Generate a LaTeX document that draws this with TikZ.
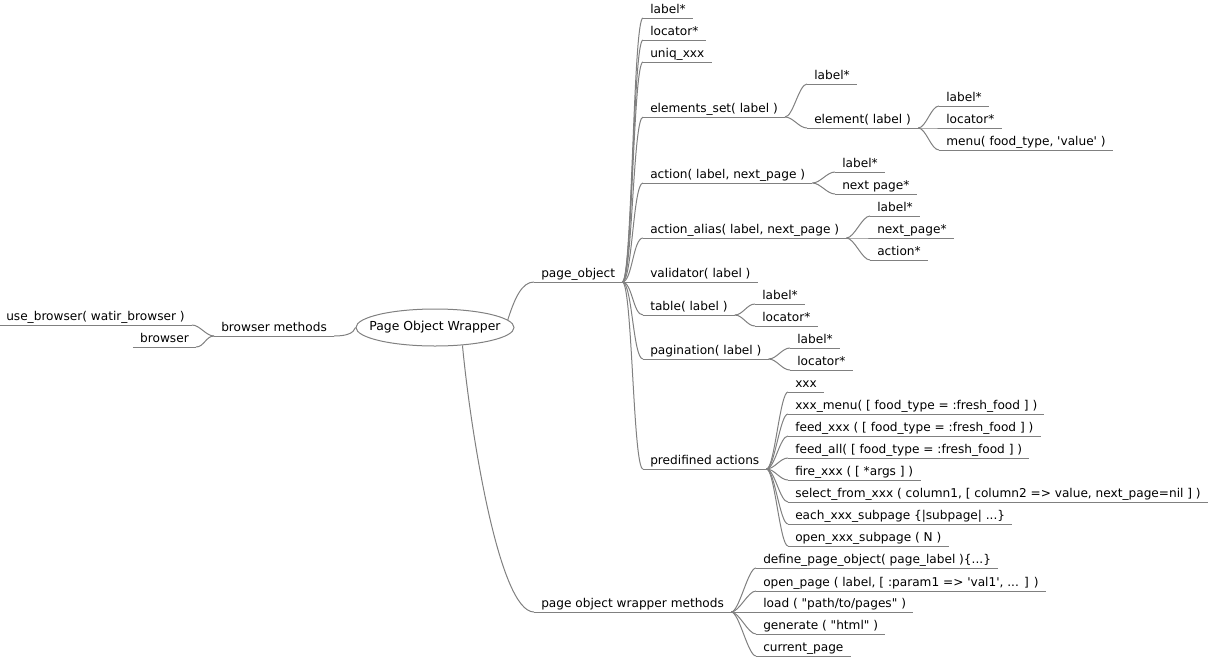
\documentclass[tikz,border=0pt]{standalone}
\usepackage{fontspec}
\setmainfont{DejaVu Sans}[Ligatures=TeXOff]
\usetikzlibrary{shapes.geometric}
\definecolor{edgegray}{HTML}{808080}
\tikzset{
  branch/.style={draw=edgegray, line width=0.75pt},
  topic/.style={anchor=south west, font=\fontsize{9.1}{11}\selectfont, inner xsep=5.25pt, inner ysep=0.8pt,
    text height=7pt, text depth=2.3pt,
    append after command={(\tikzlastnode.south west) edge[branch] (\tikzlastnode.south east)}},
  ltopic/.style={topic, anchor=south east},
  root/.style={ellipse, draw=edgegray, line width=0.75pt, minimum width=118.5pt, minimum height=27.75pt,
    inner xsep=-8pt, inner ysep=0pt, font=\fontsize{9.3}{11}\selectfont}
}

\begin{document}
\begin{tikzpicture}[x=0.75pt, y=-0.75pt]
\useasboundingbox (0,0) rectangle (1209,657);

% Root
\node[root] (root) at (435,327.5) {Page Object Wrapper};

% Left branch
\node[topic] (bm) at (214,336) {browser methods};
\node[topic] (ub) at (-1,325) {use\_browser( watir\_browser )};
\node[ltopic] (br) at (196,347) {browser};
\draw[branch] (bm.south east) .. controls +(12,0) and +(-2,6) .. (root.west);
\foreach \n in {ub,br} \draw[branch] (bm.south west) .. controls +(-8,0) and +(8,0) .. (\n.south east);

% Right branch
\node[topic] (po) at (534,282) {page\_object};
\node[topic] (wr) at (534,612) {page object wrapper methods};
\draw[branch] (root.6) .. controls +(7,-22) and +(-12,0) .. (po.south west);
\draw[branch] (root.-33) .. controls +(8,85) and +(-35,0) .. (wr.south west);

% page_object
\node[topic] (plabel) at (643,18) {label*};
\node[topic] (plocator) at (643,40) {locator*};
\node[topic] (puniq) at (643,62) {uniq\_xxx};
\node[topic] (elset) at (643,117) {elements\_set( label )};
\node[topic] (action) at (643,183) {action( label, next\_page )};
\node[topic] (alias) at (643,238) {action\_alias( label, next\_page )};
\node[topic] (validator) at (643,282) {validator( label )};
\node[topic] (table) at (643,315) {table( label )};
\node[topic] (pagin) at (643,359) {pagination( label )};
\node[topic] (predef) at (643,469) {predifined actions};
\foreach \n in {plabel,plocator,puniq,elset,action,alias,validator,table,pagin,predef}
  \draw[branch] (po.south east) .. controls +(10,0) and +(-10,0) .. (\n.south west);

% elements_set
\node[topic] (eslabel) at (807,84) {label*};
\node[topic] (element) at (807,128) {element( label )};
\foreach \n in {eslabel,element}
  \draw[branch] (elset.south east) .. controls +(8,0) and +(-8,0) .. (\n.south west);

\node[topic] (ellabel) at (939,106) {label*};
\node[topic] (ellocator) at (939,128) {locator*};
\node[topic] (elmenu) at (939,150) {menu( food\_type, 'value' )};
\foreach \n in {ellabel,ellocator,elmenu}
  \draw[branch] (element.south east) .. controls +(8,0) and +(-8,0) .. (\n.south west);

% action / action_alias
\node[topic] (aclabel) at (835,172) {label*};
\node[topic] (acnext) at (835,194) {next page*};
\foreach \n in {aclabel,acnext}
  \draw[branch] (action.south east) .. controls +(8,0) and +(-8,0) .. (\n.south west);

\node[topic] (allabel) at (870,216) {label*};
\node[topic] (alnext) at (870,238) {next\_page*};
\node[topic] (alaction) at (870,260) {action*};
\foreach \n in {allabel,alnext,alaction}
  \draw[branch] (alias.south east) .. controls +(8,0) and +(-8,0) .. (\n.south west);

% table / pagination
\node[topic] (tblabel) at (755,304) {label*};
\node[topic] (tblocator) at (755,326) {locator*};
\foreach \n in {tblabel,tblocator}
  \draw[branch] (table.south east) .. controls +(8,0) and +(-8,0) .. (\n.south west);

\node[topic] (pglabel) at (790,348) {label*};
\node[topic] (pglocator) at (790,370) {locator*};
\foreach \n in {pglabel,pglocator}
  \draw[branch] (pagin.south east) .. controls +(8,0) and +(-8,0) .. (\n.south west);

% predifined actions
\node[topic] (pdxxx) at (788,392) {xxx};
\node[topic] (pdmenu) at (788,414) {xxx\_menu( [ food\_type = :fresh\_food ] )};
\node[topic] (pdfeed) at (788,436) {feed\_xxx ( [ food\_type = :fresh\_food ] )};
\node[topic] (pdfeedall) at (788,458) {feed\_all( [ food\_type = :fresh\_food ] )};
\node[topic] (pdfire) at (788,480) {fire\_xxx ( [ *args ] )};
\node[topic] (pdselect) at (788,502) {select\_from\_xxx ( column1, [ column2 => value, next\_page=nil ] )};
\node[topic] (pdeach) at (788,524) {each\_xxx\_subpage \{|subpage| ...\}};
\node[topic] (pdopen) at (788,546) {open\_xxx\_subpage ( N )};
\foreach \n in {pdxxx,pdmenu,pdfeed,pdfeedall,pdfire,pdselect,pdeach,pdopen}
  \draw[branch] (predef.south east) .. controls +(8,0) and +(-8,0) .. (\n.south west);

% page object wrapper methods
\node[topic] (wrdefine) at (756,568) {define\_page\_object( page\_label )\{...\}};
\node[topic] (wropen) at (756,591) {open\_page ( label, [ :param1 => 'val1', ... ] )};
\node[topic] (wrload) at (756,612) {load ( "path/to/pages" )};
\node[topic] (wrgen) at (756,634) {generate ( "html" )};
\node[topic] (wrcurrent) at (756,656) {current\_page};
\foreach \n in {wrdefine,wropen,wrload,wrgen,wrcurrent}
  \draw[branch] (wr.south east) .. controls +(8,0) and +(-8,0) .. (\n.south west);

\end{tikzpicture}
\end{document}
